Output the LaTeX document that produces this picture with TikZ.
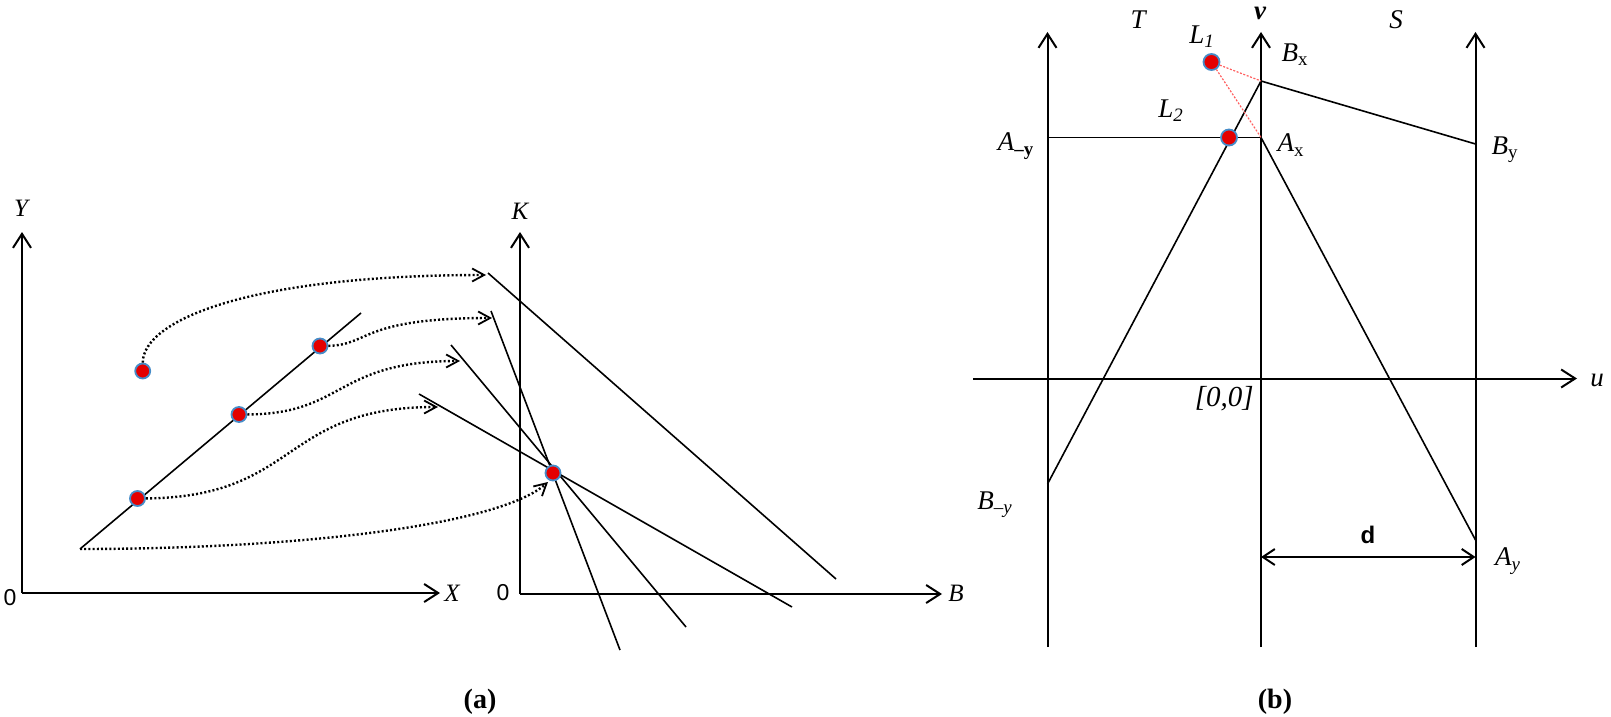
\documentclass[tikz,border=0pt]{standalone}
\usepackage{fontspec}
\setmainfont{Liberation Serif}
\setsansfont{Liberation Sans}
\usetikzlibrary{arrows.meta}
\definecolor{dotred}{RGB}{228,0,0}
\definecolor{dotrim}{RGB}{70,140,200}
\definecolor{linkred}{RGB}{255,95,95}

\tikzset{
  axisline/.style={line width=1pt, -{Straight Barb[length=7pt,width=9pt,line width=1pt]}},
  plainline/.style={line width=0.8pt},
  mapcurve/.style={line width=1.2pt, dash pattern=on 1pt off 1.1pt, -{Straight Barb[length=6pt,width=6.5pt,line width=0.9pt]}},
  linkline/.style={line width=0.6pt, linkred, dash pattern=on 1pt off 0.8pt},
  reddot/.style={circle, fill=dotred, draw=dotrim, line width=0.9pt, inner sep=0pt, minimum size=7.5pt},
  lbl/.style={font=\fontsize{12.5}{14}\selectfont\itshape, inner sep=0pt},
  biglbl/.style={font=\fontsize{13.5}{15}\selectfont\itshape, inner sep=0pt},
  zerolbl/.style={font=\fontsize{11.5}{13}\selectfont\sffamily, inner sep=0pt},
  caplbl/.style={font=\fontsize{14}{16}\selectfont\bfseries, inner sep=0pt}
}

\begin{document}
\begin{tikzpicture}[x=0.5pt, y=-0.5pt]
    \useasboundingbox (0,0) rectangle (1611,717);

    % (a) the XY plane
    \coordinate (o1) at (22,593);
    \coordinate (ytip) at (22,232);
    \coordinate (xtip) at (440,593);
    \draw[axisline] (o1) -- (ytip);
    \draw[axisline] (o1) -- (xtip);
    \node[lbl] (ylab) at (21,208) {Y};
    \node[lbl] (xlab) at (452,593) {X};
    \node[zerolbl] (zero1) at (10,598) {0};

    \coordinate (diag_start) at (80,549);
    \coordinate (diag_end) at (361,313);
    \draw[plainline] (diag_start) -- (diag_end);

    % (a) the KB plane
    \coordinate (o2) at (520,594);
    \coordinate (ktip) at (520,232);
    \coordinate (btip) at (942,594);
    \draw[axisline] (o2) -- (ktip);
    \draw[axisline] (o2) -- (btip);
    \node[lbl] (klab) at (520,211) {K};
    \node[lbl] (blab) at (956,593) {B};
    \node[zerolbl] (zero2) at (503,593) {0};

    \coordinate (l1s) at (488,273);  \coordinate (l1e) at (836,579);
    \coordinate (l2s) at (491,311);  \coordinate (l2e) at (620,650);
    \coordinate (l3s) at (451,345);  \coordinate (l3e) at (686,627);
    \coordinate (l4s) at (419,394);  \coordinate (l4e) at (792,607);
    \draw[plainline] (l1s) -- (l1e);
    \draw[plainline] (l2s) -- (l2e);
    \draw[plainline] (l3s) -- (l3e);
    \draw[plainline] (l4s) -- (l4e);

    \coordinate (t1) at (486,275);
    \coordinate (t2) at (492,318);
    \coordinate (t3) at (460,361);
    \coordinate (t4) at (438,407);
    \coordinate (t5) at (548,482);

    \node[reddot] (free_pt) at (142.7,371) {};
    \node[reddot] (pt_low) at (137.5,498.5) {};
    \node[reddot] (pt_mid) at (239,414.5) {};
    \node[reddot] (pt_high) at (320,346) {};

    \draw[mapcurve] (free_pt) .. controls (143,320) and (250,275) .. (t1);
    \draw[mapcurve] (pt_high) .. controls (370,345) and (360,318) .. (t2);
    \draw[mapcurve] (pt_mid) .. controls (345,414) and (335,361) .. (t3);
    \draw[mapcurve] (pt_low) .. controls (300,497) and (280,407) .. (t4);
    \draw[mapcurve] (diag_start) .. controls (300,549) and (500,525) .. (t5);

    \node[reddot] (meet_pt) at (553,473) {};

    \node[caplbl] (cap_a) at (480,702) {(a)};

    % (b) the parallel axes
    \coordinate (ta_bot) at (1047.5,647);  \coordinate (ta_top) at (1047.5,32);
    \coordinate (va_bot) at (1261,647);    \coordinate (va_top) at (1261,32);
    \coordinate (sa_bot) at (1475.5,647);  \coordinate (sa_top) at (1475.5,32);
    \coordinate (ua_left) at (973,378.5);  \coordinate (ua_right) at (1577,378.5);
    \draw[axisline] (ta_bot) -- (ta_top);
    \draw[axisline] (va_bot) -- (va_top);
    \draw[axisline] (sa_bot) -- (sa_top);
    \draw[axisline] (ua_left) -- (ua_right);

    \coordinate (bx) at (1261,81);
    \coordinate (by) at (1475.5,144);
    \coordinate (ax) at (1261,137.5);
    \coordinate (amy) at (1047.5,137.5);
    \coordinate (ay) at (1475.5,540);
    \coordinate (bmy) at (1047.5,484);
    \draw[plainline] (amy) -- (ax);
    \draw[plainline] (ax) -- (ay);
    \draw[plainline] (bx) -- (by);
    \draw[plainline] (bx) -- (bmy);

    \node[reddot, minimum size=8pt] (pt_l1) at (1211.5,62) {};
    \node[reddot, minimum size=8pt] (pt_l2) at (1229,137.5) {};
    \draw[linkline] (pt_l1) -- (bx);
    \draw[linkline] (pt_l1) -- (ax);

    \coordinate (d_left) at (1261,557);
    \coordinate (d_right) at (1475.5,557);
    \draw[line width=1pt, {Straight Barb[length=6pt,width=8pt,line width=1pt]}-{Straight Barb[length=6pt,width=8pt,line width=1pt]}] (d_left) -- (d_right);

    \node[biglbl] (tlab) at (1138,20) {T};
    \node[biglbl] (slab) at (1396,20) {S};
    \node[biglbl, font=\fontsize{13.5}{15}\selectfont\bfseries\itshape] (vlab) at (1260,13) {v};
    \node[biglbl] (ulab) at (1597,380) {u};
    \node[biglbl] (l1lab) at (1202,37) {L\textsubscript{1}};
    \node[biglbl] (l2lab) at (1171,111) {L\textsubscript{2}};
    \node[biglbl] (bxlab) at (1295,55) {B\textsubscript{\upshape x}};
    \node[biglbl] (bylab) at (1505,150) {B\textsubscript{\upshape y}};
    \node[biglbl] (axlab) at (1291,145) {A\textsubscript{\upshape x}};
    \node[biglbl] (amylab) at (1016,146) {A\textsubscript{\upshape\bfseries –y}};
    \node[biglbl] (bmylab) at (995,505) {B\textsubscript{–y}};
    \node[biglbl] (aylab) at (1508,561) {A\textsubscript{y}};
    \node[biglbl, font=\fontsize{14.5}{16}\selectfont\itshape, anchor=north east] (origin_lab) at (1254,386) {[0,0]};
    \node[font=\fontsize{12}{13}\selectfont\sffamily\bfseries, inner sep=0pt] (dlab) at (1368,535) {d};

    \node[caplbl] (cap_b) at (1275,702) {(b)};
\end{tikzpicture}
\end{document}
